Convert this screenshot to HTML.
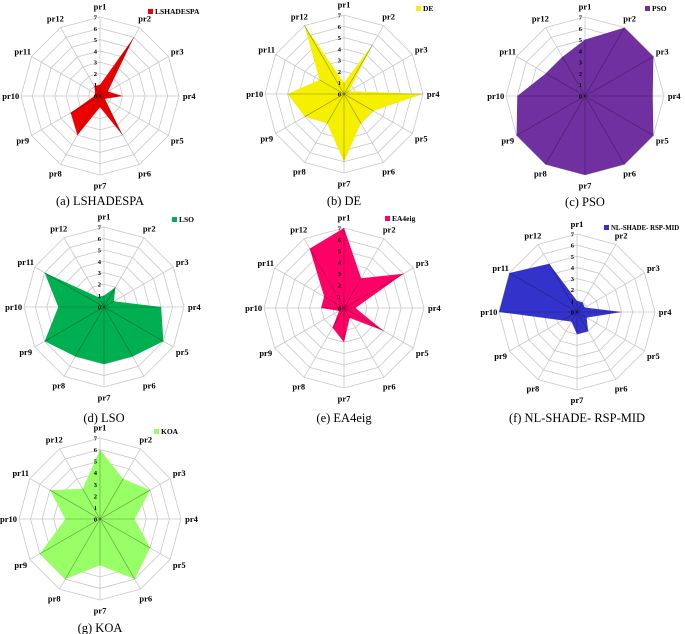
<!DOCTYPE html>
<html><head><meta charset="utf-8"><style>
html,body{margin:0;padding:0;background:#fff;}
svg{display:block;}
</style></head><body>
<svg id="chart" width="685" height="634" viewBox="0 0 685 634" xmlns="http://www.w3.org/2000/svg"></svg>
<script>
const categories = ["pr1","pr2","pr3","pr4","pr5","pr6","pr7","pr8","pr9","pr10","pr11","pr12"];
const ticks = [0,1,2,3,4,5,6,7];
const names = ["LSHADESPA","DE","PSO","LSO","EA4eig","NL-SHADE- RSP-MID","KOA"];
const captions = ["(a) LSHADESPA","(b) DE","(c) PSO","(d) LSO","(e) EA4eig","(f) NL-SHADE- RSP-MID","(g) KOA"];
const lshadespa = [1,6,0.8,2,0.5,4,1,4,3,0.5,0.5,1];
const de = [1,5,0.5,7,3,3,6,3,4,5,2.5,7];
const pso = [5,7,7,6,7,7,7,7,7,6,4,4];
const lso = [1,2,1,5,6,5,5,5,6,4,6,1];
const ea4eig = [7,3,6,1,4,1,3,2,0.5,2,2,6];
const nlshade = [1,1,0.8,4,1,2,2,1,1.5,7,7,5];
const koa = [6,4,5,3,5,6,4,6,6,3,5,3];
const series = [lshadespa,de,pso,lso,ea4eig,nlshade,koa];
const colors = ["#ee0000","#f5ef00","#7030a0","#00b050","#ff0066","#3333cc","#99ff66"];
const layout = [
 {cx:100,cy:96,r:79,lx:148,ly:14,capY:205,lf:7.5},
 {cx:344,cy:94,r:79,lx:416,ly:11,capY:205,lf:7.5},
 {cx:585,cy:96,r:79,lx:645,ly:11,capY:206,lf:7.5},
 {cx:104,cy:307,r:80,lx:172,ly:222,capY:422,lf:7.5},
 {cx:344,cy:308,r:80,lx:385,ly:221,capY:422,lf:7.5},
 {cx:577,cy:312,r:78,lx:604,ly:230,capY:422,lf:6.8},
 {cx:100,cy:519,r:81,lx:154,ly:434,capY:632,lf:7.5}
];
const NS="http://www.w3.org/2000/svg";
const svg=document.getElementById('chart');
function mk(tag,attrs,parent){const e=document.createElementNS(NS,tag);for(const k in attrs)e.setAttribute(k,attrs[k]);(parent||svg).appendChild(e);return e;}
const maxV=7;
series.forEach((vals,i)=>{
  const L=layout[i];
  const g=mk('g',{});
  
  
  const n=categories.length;
  const ang=k=>-Math.PI/2+2*Math.PI*k/n;
  const pt=(k,v)=>{const rr=L.r*v/maxV;return [L.cx+rr*Math.cos(ang(k)),L.cy+rr*Math.sin(ang(k))];};
  ticks.slice(1).forEach(t=>{
    const p=categories.map((c,k)=>pt(k,t).join(',')).join(' ');
    const ring=mk('polygon',{points:p,fill:'none',stroke:'#c8c8c8','stroke-width':0.8},g);
    
    
  });
  categories.forEach((c,k)=>{
    const e=pt(k,maxV);
    const sp=mk('line',{x1:L.cx,y1:L.cy,x2:e[0],y2:e[1],stroke:'#c8c8c8','stroke-width':0.8},g);
    
    
  });
  const poly=mk('polygon',{points:vals.map((v,k)=>pt(k,v).join(',')).join(' '),fill:colors[i],stroke:'none'},g);
  
  
  categories.forEach((c,k)=>{
    const inner=pt(k,vals[k]);
    const sp2=mk('line',{x1:L.cx,y1:L.cy,x2:inner[0],y2:inner[1],stroke:'rgba(0,0,0,0.4)','stroke-width':0.6},g);
    
    
    const lp=pt(k,maxV*1.13);
    const t=mk('text',{x:lp[0],y:lp[1]+3,'text-anchor':'middle','font-family':'Liberation Serif, serif','font-weight':'bold','font-size':'8.5'},g);
    t.textContent=c;
    
    
  });
  ticks.forEach(t=>{
    const p=pt(0,t);
    const tx=mk('text',{x:p[0]-3,y:p[1]+2.5,'text-anchor':'end','font-family':'Liberation Serif, serif','font-weight':'bold','font-size':'6.5'},g);
    tx.textContent=t;
    
    
  });
  const lg=mk('g',{},g);
  
  
  mk('rect',{x:L.lx,y:L.ly-5,width:5,height:5,fill:colors[i]},lg);
  const lt=mk('text',{x:L.lx+7,y:L.ly,'font-family':'Liberation Serif, serif','font-weight':'bold','font-size':L.lf},lg);
  lt.textContent=names[i];
  const cap=mk('text',{x:L.cx,y:L.capY,'text-anchor':'middle','font-family':'Liberation Serif, serif','font-size':'12.5'},g);
  cap.textContent=captions[i];
  
  
});
</script>
</body></html>
